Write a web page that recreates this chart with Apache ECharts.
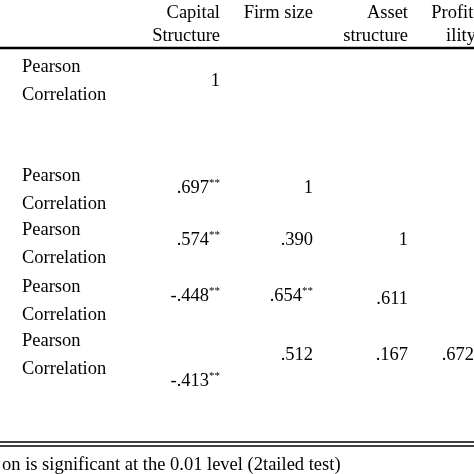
<!DOCTYPE html>
<html><head><meta charset="utf-8">
<script src="https://cdn.jsdelivr.net/npm/echarts@6/dist/echarts.min.js"></script>
<style>html,body{margin:0;padding:0;background:#fff}#c{width:474px;height:474px}</style>
</head><body><div id="c"></div>
<script>
const headers = ['Capital\nStructure', 'Firm size', 'Asset\nstructure', 'Profitab\nility'];
const rowLabels = ['Pearson\nCorrelation','Pearson\nCorrelation','Pearson\nCorrelation','Pearson\nCorrelation','Pearson\nCorrelation'];
const values = [
  ['1', '', '', ''],
  ['.697**', '1', '', ''],
  ['.574**', '.390', '1', ''],
  ['-.448**', '.654**', '.611', ''],
  ['-.413**', '.512', '.167', '.672']
];
const footnote = 'on is significant at the 0.01 level (2tailed test)';

// layout
const colRight = [220, 313, 408, 474];
const rowY = [81, 190, 244, 301, 355];
const cellDy = [[0,0,0,0],[-2,-2,0,0],[-4,-4,-4,0],[-5,-5,-2,0],[26,0,0,0]];
const font = 'Liberation Serif';
const fs = 18.5;
const ink = '#000';

const pts = [];
headers.forEach((h, j) => {
  const last = j === 3;
  pts.push({value: [last ? 461 : colRight[j], h.includes('\n') ? 25 : 13], label: {formatter: h, align: last ? 'center' : 'right', lineHeight: 23, color: ink}});
});
rowLabels.forEach((r, i) => {
  pts.push({value: [22, rowY[i]], label: {formatter: r, align: 'left', lineHeight: 28, color: ink}});
});
values.forEach((row, i) => row.forEach((v, j) => {
  if (!v) return;
  const star = v.endsWith('**');
  const base = star ? v.slice(0, -2) : v;
  pts.push({value: [colRight[j], rowY[i] + cellDy[i][j]], label: {
    formatter: star ? '{a|' + base + '}{s|**}' : '{a|' + base + '}', align: 'right'}});
}));
pts.push({value: [2, 465], label: {formatter: footnote, align: 'left', color: ink}});

const chart = echarts.init(document.getElementById('c'));
chart.setOption({
  animation: false,
  grid: {left: 0, right: 0, top: 0, bottom: 0},
  xAxis: {type: 'value', min: 0, max: 474, show: false},
  yAxis: {type: 'value', min: 0, max: 474, inverse: true, show: false},
  series: [{
    type: 'scatter', symbolSize: 0, data: pts, itemStyle: {opacity: 1},
    label: {show: true, position: 'inside', verticalAlign: 'middle', color: ink, fontFamily: font, fontSize: fs,
      textBorderWidth: 0, opacity: 1,
      rich: {a: {fontFamily: font, fontSize: fs, color: ink}, s: {fontFamily: font, fontSize: 11, color: ink, verticalAlign: 'top', padding: [0,0,9,0]}}}
  }],
  graphic: [
    {type: 'line', shape: {x1: 0, y1: 48, x2: 474, y2: 48}, style: {stroke: '#000', lineWidth: 2.5}},
    {type: 'line', shape: {x1: 0, y1: 442, x2: 474, y2: 442}, style: {stroke: '#000', lineWidth: 1.3}},
    {type: 'line', shape: {x1: 0, y1: 446, x2: 474, y2: 446}, style: {stroke: '#000', lineWidth: 1.3}}
  ]
});
</script></body></html>
